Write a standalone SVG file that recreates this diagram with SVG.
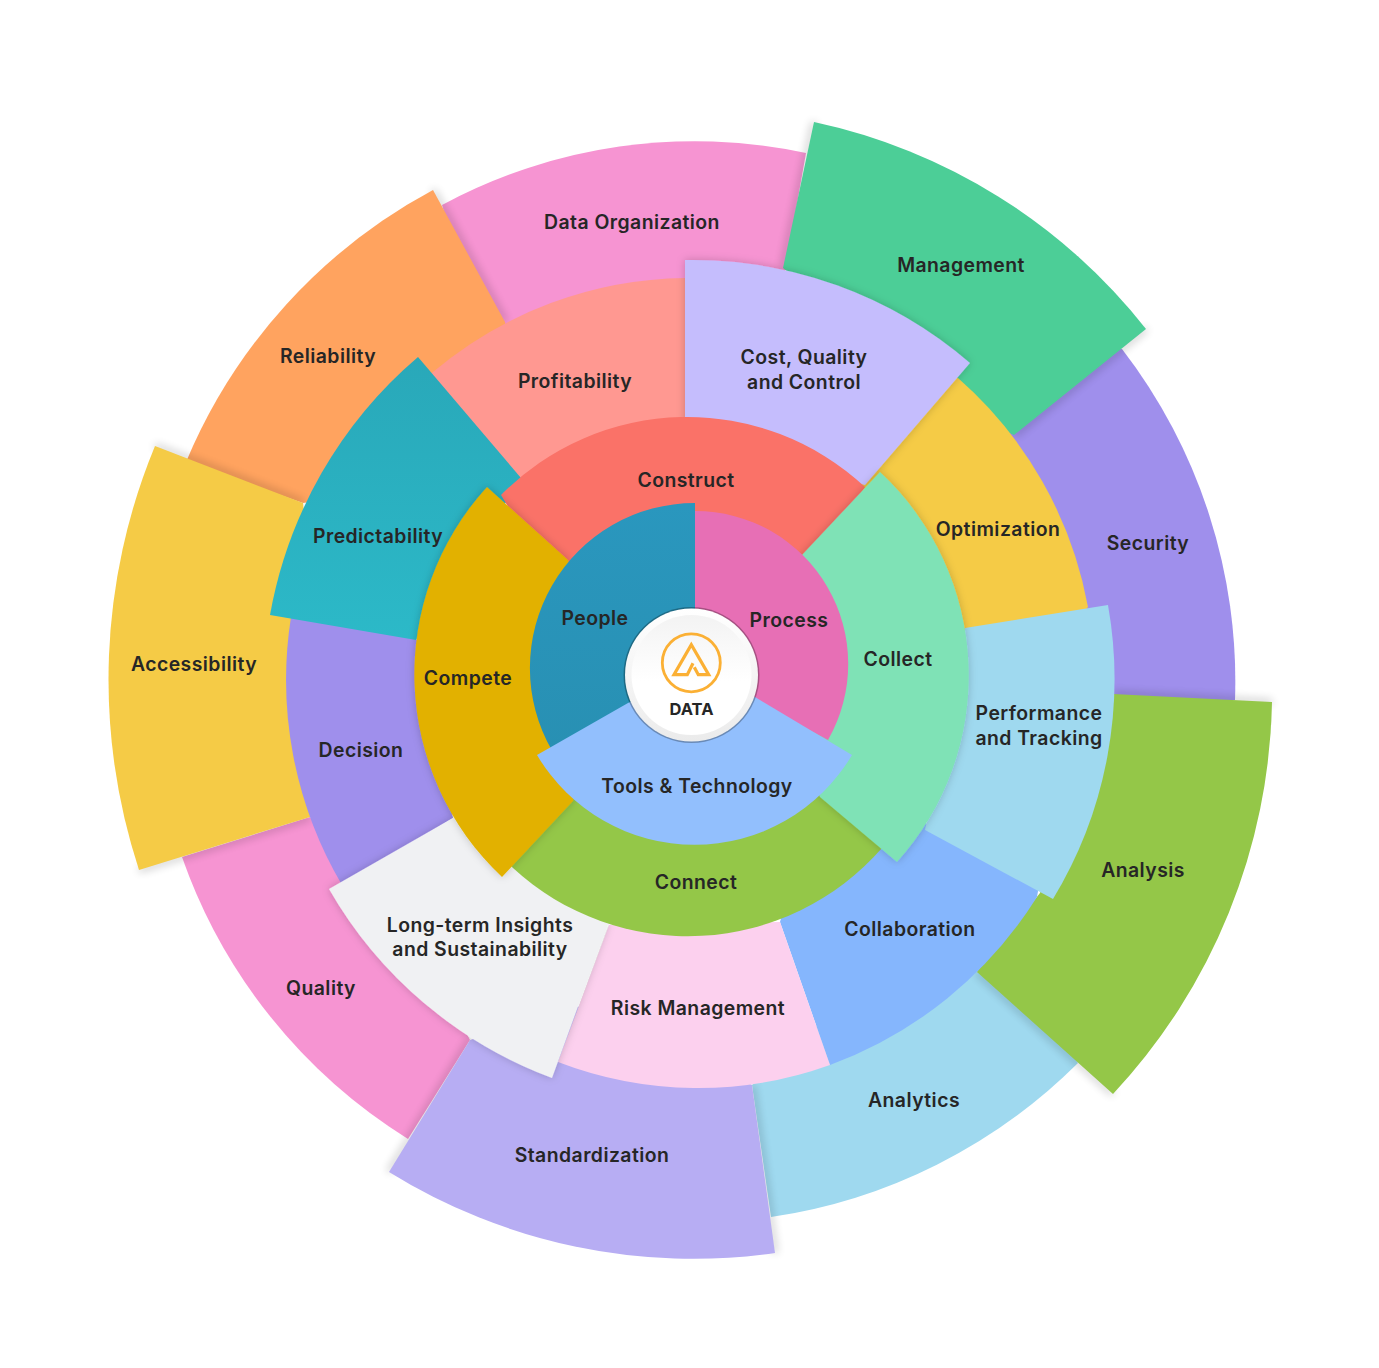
<svg xmlns="http://www.w3.org/2000/svg" width="1379" height="1368" viewBox="0 0 1379 1368">
<defs>
<filter id="s" x="-20%" y="-20%" width="140%" height="140%"><feDropShadow dx="0" dy="0" stdDeviation="4" flood-color="#000" flood-opacity=".2"/></filter>
<filter id="b" x="-40%" y="-40%" width="180%" height="180%"><feGaussianBlur stdDeviation="4"/></filter>
<linearGradient id="teal" x1="0" y1="0" x2="0" y2="1"><stop offset="0" stop-color="#29a8b9"/><stop offset="1" stop-color="#2cb9c8"/></linearGradient>
<linearGradient id="blue" x1="0" y1="0" x2="0" y2="1"><stop offset="0" stop-color="#2a97be"/><stop offset="1" stop-color="#2890b3"/></linearGradient>
<linearGradient id="core" x1="0" y1="0" x2="0" y2="1"><stop offset="0" stop-color="#f3f3f3"/><stop offset=".55" stop-color="#fff"/><stop offset="1" stop-color="#fff"/></linearGradient>
<linearGradient id="rim" x1="0" y1="0" x2="0" y2="1"><stop offset="0" stop-color="#fff"/><stop offset="1" stop-color="#ebebeb"/></linearGradient>
</defs>
<style>
text{font-family:Inter,"Noto Sans",sans-serif;font-size:19.4px;font-weight:565;fill:#262626;text-anchor:middle;letter-spacing:.45px}
.sh{fill:none;stroke:#000;stroke-width:5;opacity:.22;filter:url(#b)}
.f{filter:url(#s)}
</style>
<rect width="1379" height="1368" fill="#fff"/>
<g id="data-organization"><path fill="#f694d2" d="M470,300L442,205A533 533 0 0 1 806,153L780,300L530,350Z"/><text x="632" y="229">Data Organization</text></g>
<g id="security"><path fill="#9f8fec" d="M1100,350L1122,349A544 544 0 0 1 1235,700L1100,700L1000,440Z"/><text x="1148" y="550">Security</text></g>
<g id="analytics"><path fill="#9fd9ef" d="M1078,1063A548 548 0 0 1 771,1217L752,1085L900,950L1000,950Z"/><text x="914" y="1107">Analytics</text></g>
<g id="quality"><path fill="#f694d2" d="M182,857A543 543 0 0 0 408,1139L470,1040L400,900L310,817Z"/><text x="321" y="995">Quality</text></g>
<g id="reliability"><path class="sh" d="M433,190L505,322"/><path fill="#ffa35f" d="M186,462A549 549 0 0 1 433,190L505,322L530,470L303,503Z"/><text x="328" y="363">Reliability</text></g>
<g id="accessibility"><path class="sh" d="M303,503L155,446M139,870L310,817"/><path fill="#f5cb46" d="M303,503L155,446A610 610 0 0 0 139,870L310,817L320,650Z"/><text x="194" y="671">Accessibility</text></g>
<g id="management"><path class="sh" d="M814,122L783,268M1146,329L1014,435"/><path fill="#4cce97" d="M814,122A575 575 0 0 1 1146,329L1014,435L958,410L783,268Z"/><text x="961" y="272">Management</text></g>
<g id="analysis"><path class="sh" d="M1113,694L1272,702M1113,1094L977,972"/><path fill="#94c748" d="M1113,694L1272,702A590 590 0 0 1 1113,1094L977,972L1040,893Z"/><text x="1143" y="877">Analysis</text></g>
<g id="standardization"><path class="sh" d="M470,1040L389,1172M775,1253L752,1085"/><path fill="#b7adf3" d="M470,1040L389,1172A578 578 0 0 0 775,1253L752,1085L600,1000Z"/><text x="592" y="1162">Standardization</text></g>
<g id="decision"><path fill="#9f8fec" d="M291,617A404 404 0 0 0 342,885L453,818L420,640Z"/><text x="361" y="757">Decision</text></g>
<g id="profitability"><path fill="#ff9891" d="M433,372A398 398 0 0 1 685,278L685,440L540,500L480,440L425,380Z"/><text x="575" y="388">Profitability</text></g>
<g id="optimization"><path fill="#f5cb46" d="M850,490L940,375L958,378A400 400 0 0 1 1088,607L1060,640L966,640Z"/><text x="998" y="536">Optimization</text></g>
<g id="collaboration"><path fill="#85b6fd" d="M1037,897A412 412 0 0 1 830,1065L780,922L800,850L880,800L1040,880Z"/><text x="910" y="936">Collaboration</text></g>
<g id="risk-management"><path fill="#fcd0ee" d="M609,925L558,1062A390 390 0 0 0 830,1065L780,922Z"/><text x="698" y="1015">Risk Management</text></g>
<g id="long-term"><path fill="#f0f1f3" class="f" d="M453,818L329,889A430 430 0 0 0 552,1078L608,924L500,860Z"/><text x="480" y="932">Long-term Insights</text><text x="480" y="956">and Sustainability</text></g>
<g id="predictability"><path fill="url(#teal)" d="M521,478L418,357A440 440 0 0 0 270,615L416,640L470,560Z"/><text x="378" y="543">Predictability</text></g>
<g id="cost-quality"><path fill="#c5bdfd" class="f" d="M685,260A425 425 0 0 1 970,363L865,485L685,440Z"/><text x="804" y="364">Cost, Quality</text><text x="804" y="389">and Control</text></g>
<g id="performance"><path fill="#9fd9ef" d="M965,628L1108,605A424 424 0 0 1 1053,899L925,830Z"/><text x="1039" y="720">Performance</text><text x="1039" y="745">and Tracking</text></g>
<g id="construct"><path fill="#fa7268" d="M501,495A261 261 0 0 1 865,487L830,540L800,580L691,540L590,600L540,560Z"/><text x="686" y="487">Construct</text></g>
<g id="connect"><path fill="#94c748" d="M573,780L505,860L513,868A258 258 0 0 0 882,848L860,800L822,795Z"/><text x="696" y="889">Connect</text></g>
<g id="compete"><path fill="#e2b100" class="f" d="M568,560L487,487A278 278 0 0 0 502,877L573,801L600,680Z"/><text x="468" y="685">Compete</text></g>
<g id="collect"><path fill="#7fe2b6" class="f" d="M802,555L880,472A278 278 0 0 1 897,862L820,797L780,700Z"/><text x="898" y="666">Collect</text></g>
<g id="people"><path fill="url(#blue)" d="M695,503A165 165 0 0 0 552,750.500L630,705L695,670Z"/><text x="595" y="625">People</text></g>
<g id="process"><path fill="#e76fb5" d="M695,511A153 153 0 0 1 828,740L750,698L695,670Z"/><text x="789" y="627">Process</text></g>
<g id="tools"><path fill="#92bffd" d="M537,755A183 183 0 0 0 852,755L755,697L691,675L628,703Z"/><text x="697" y="793">Tools &amp; Technology</text></g>
<g id="data">
<circle cx="691.500" cy="675" r="68" fill="#000" opacity=".28"/>
<circle cx="691.500" cy="675" r="66.500" fill="url(#rim)"/>
<circle cx="691.500" cy="675" r="60" fill="url(#core)"/>
<circle cx="691.300" cy="662.800" r="29" fill="none" stroke="#fbb034" stroke-width="2.800"/>
<path d="M693,663.300L687.300,674.700L674,674.700L691.300,644.700L708.700,674.700L698.300,674.700L694.300,667.300" fill="none" stroke="#fbb034" stroke-width="3.200"/>
<text x="691.500" y="715" style="font-size:16.500px;font-weight:700;letter-spacing:0">DATA</text>
</g>
</svg>
